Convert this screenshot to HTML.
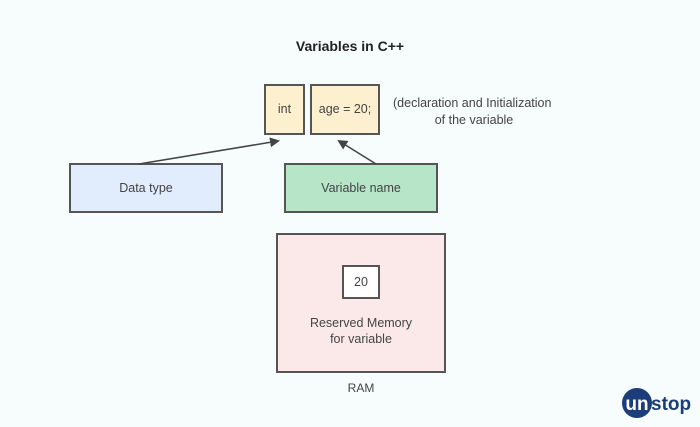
<!DOCTYPE html>
<html><head><style>
body{margin:0;width:700px;height:427px;background:#f7fcfc;overflow:hidden}
svg{display:block}
text{font-family:"Liberation Sans",sans-serif;fill:#444}
</style></head><body>
<svg width="700" height="427" viewBox="0 0 700 427">
<defs><marker id="a" markerWidth="10" markerHeight="10" refX="8" refY="5" orient="auto" markerUnits="userSpaceOnUse"><path d="M0,0 L10,5 L0,10 z" fill="#444"/></marker></defs>
<text x="350" y="51" text-anchor="middle" font-size="14" font-weight="bold" fill="#222" style="fill:#222">Variables in C++</text>
<rect x="265" y="85" width="39" height="49" fill="#fdf0cf" stroke="#555" stroke-width="2"/>
<text x="284.5" y="113" text-anchor="middle" font-size="12.5">int</text>
<rect x="311" y="85" width="68" height="49" fill="#fdf0cf" stroke="#555" stroke-width="2"/>
<text x="345" y="113" text-anchor="middle" font-size="12.5">age = 20;</text>
<text x="393" y="107" font-size="12.5">(declaration and Initialization</text>
<text x="474" y="124" text-anchor="middle" font-size="12.5">of the variable</text>
<rect x="70" y="164" width="152" height="48" fill="#e1edfc" stroke="#555" stroke-width="2"/>
<text x="146" y="192" text-anchor="middle" font-size="12.5">Data type</text>
<rect x="285" y="164" width="152" height="48" fill="#b6e5c8" stroke="#555" stroke-width="2"/>
<text x="361" y="192" text-anchor="middle" font-size="12.5">Variable name</text>
<line x1="139" y1="164" x2="278" y2="141" stroke="#444" stroke-width="1.5" marker-end="url(#a)"/>
<line x1="376" y1="164" x2="339" y2="141" stroke="#444" stroke-width="1.5" marker-end="url(#a)"/>
<rect x="277" y="234" width="168" height="138" fill="#fbe9ea" stroke="#555" stroke-width="2"/>
<rect x="343" y="266" width="36" height="32" fill="#fff" stroke="#555" stroke-width="2"/>
<text x="361" y="286" text-anchor="middle" font-size="12.5">20</text>
<text x="361" y="327" text-anchor="middle" font-size="12.5">Reserved Memory</text>
<text x="361" y="343" text-anchor="middle" font-size="12.5">for variable</text>
<text x="361" y="392" text-anchor="middle" font-size="12">RAM</text>
<circle cx="637" cy="403" r="15" fill="#1b3d7a"/>
<text x="637" y="410" text-anchor="middle" font-size="19" font-weight="bold" style="fill:#fff">un</text>
<text x="651" y="410" font-size="19" font-weight="bold" style="fill:#1b3d7a">stop</text>
</svg>
</body></html>
